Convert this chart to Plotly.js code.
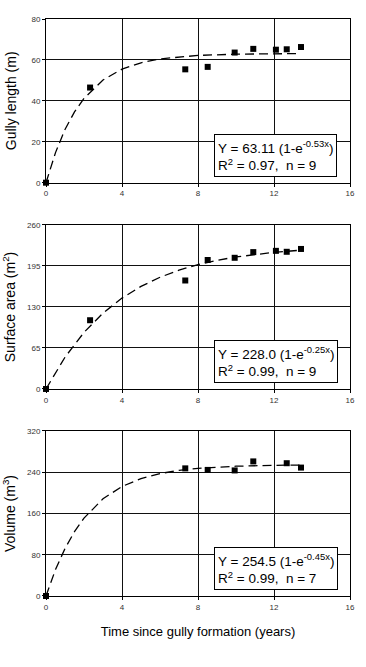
<!DOCTYPE html>
<html><head><meta charset="utf-8">
<script src="https://cdn.plot.ly/plotly-3.0.1.min.js"></script>
<style>html,body{margin:0;padding:0;background:#fff}#chart{width:366px;height:667px}</style>
</head><body><div id="chart"></div>
<script>
// Observed data
const lenX = [0, 2.32, 7.33, 8.51, 9.93, 10.91, 12.1, 12.67, 13.42];
const lenY = [0, 46.5, 55.4, 56.6, 63.6, 65.4, 65.0, 65.2, 66.3];
const areaX = [0, 2.32, 7.33, 8.51, 9.93, 10.91, 12.1, 12.67, 13.42];
const areaY = [0, 109, 172, 204.5, 208, 217, 219, 217.5, 222];
const volX = [0, 7.33, 8.51, 9.93, 10.91, 12.67, 13.42];
const volY = [0, 247.5, 244.5, 243.5, 261, 257.5, 249];
// Fitted curves
const fitLenX = [0, 0.5, 1, 1.5, 2, 3, 4, 5, 6, 8, 10, 12, 13.4];
const fitLenY = [0, 14.7, 26, 34.6, 41.2, 50.2, 55.5, 58.6, 60.5, 62.2, 62.8, 63.0, 63.1];
const fitAreaX = [0, 1, 2, 3, 4, 5, 6, 7, 8, 9, 10, 11, 12, 13.4];
const fitAreaY = [0, 50.4, 89.7, 120.3, 144.1, 162.7, 177.1, 188.4, 197.2, 204, 209.3, 213.4, 216.6, 220];
const fitVolX = [0, 0.5, 1, 1.5, 2, 3, 4, 5, 6, 7, 8, 10, 12, 13.4];
const fitVolY = [0, 51.3, 92.2, 124.9, 151, 188.5, 212.4, 227.7, 237.4, 243.6, 247.5, 251.7, 253.4, 253.9];
// Labels
const yTitles = ["Gully length (m)", "Surface area (m<sup>2</sup>)", "Volume (m<sup>3</sup>)"];
const xTitle = "Time since gully formation (years)";
const fitTexts = [
  "Y = 63.11 (1-e<sup>-0.53x</sup>)<br>R<sup>2</sup> = 0.97,  n = 9",
  "Y = 228.0 (1-e<sup>-0.25x</sup>)<br>R<sup>2</sup> = 0.99,  n = 9",
  "Y = 254.5 (1-e<sup>-0.45x</sup>)<br>R<sup>2</sup> = 0.99,  n = 7"
];
const yTicks = [[0,20,40,60,80],[0,65,130,195,260],[0,80,160,240,320]];
const xTicks = [0,4,8,12,16];

const fitLine = {color:'#000', width:1.3, dash:'9px,5px'};
const mk = {symbol:'square', size:6, color:'#000'};
const data = [
  {x:fitLenX, y:fitLenY, mode:'lines', line:fitLine, xaxis:'x', yaxis:'y'},
  {x:lenX, y:lenY, mode:'markers', marker:mk, xaxis:'x', yaxis:'y', cliponaxis:false},
  {x:fitAreaX, y:fitAreaY, mode:'lines', line:fitLine, xaxis:'x2', yaxis:'y2'},
  {x:areaX, y:areaY, mode:'markers', marker:mk, xaxis:'x2', yaxis:'y2', cliponaxis:false},
  {x:fitVolX, y:fitVolY, mode:'lines', line:fitLine, xaxis:'x3', yaxis:'y3'},
  {x:volX, y:volY, mode:'markers', marker:mk, xaxis:'x3', yaxis:'y3', cliponaxis:false}
];
const font = {family:'Liberation Sans, Arial, sans-serif', color:'#000'};
function xa(anchor, withTitle){
  const a = {anchor:anchor, range:[0,16], tickvals:xTicks, showgrid:true, gridcolor:'#111', gridwidth:1,
    showline:true, linecolor:'#000', linewidth:1, mirror:true, zeroline:false,
    ticks:'outside', ticklen:3, tickcolor:'#000', tickfont:{size:8, color:'#333'}};
  if(withTitle) a.title = {text:xTitle, font:{size:13, color:'#000'}, standoff:16};
  return a;
}
function ya(anchor, i, dom){
  return {anchor:anchor, domain:dom, range:[yTicks[i][0], yTicks[i][4]], tickvals:yTicks[i],
    showgrid:true, gridcolor:'#111', gridwidth:1, showline:true, linecolor:'#000', linewidth:1, mirror:true,
    zeroline:false, ticks:'outside', ticklen:3, tickcolor:'#000', tickfont:{size:8, color:'#333'},
    title:{text:yTitles[i], font:{size:14, color:'#000'}, standoff:11}};
}
const doms = [[0.7163,1],[0.3588,0.643],[0,0.286]];
const tops = [0.8007, 0.4437, 0.0849];
const layout = {
  width:366, height:667, margin:{l:46, r:16, t:19, b:71}, showlegend:false,
  paper_bgcolor:'#fff', plot_bgcolor:'#fff', font:font,
  xaxis:xa('y', false), xaxis2:xa('y2', false), xaxis3:xa('y3', true),
  yaxis:ya('x',0,doms[0]), yaxis2:ya('x2',1,doms[1]), yaxis3:ya('x3',2,doms[2]),
  annotations: fitTexts.map((t,i)=>({text:t, xref:'paper', yref:'paper', x:0.5526, y:tops[i],
    xanchor:'left', yanchor:'top', align:'left', showarrow:false, bgcolor:'#fff',
    bordercolor:'#000', borderwidth:1, borderpad:3, font:{size:13.5, color:'#000'}}))
};
Plotly.newPlot('chart', data, layout, {staticPlot:true, displayModeBar:false});
</script></body></html>
